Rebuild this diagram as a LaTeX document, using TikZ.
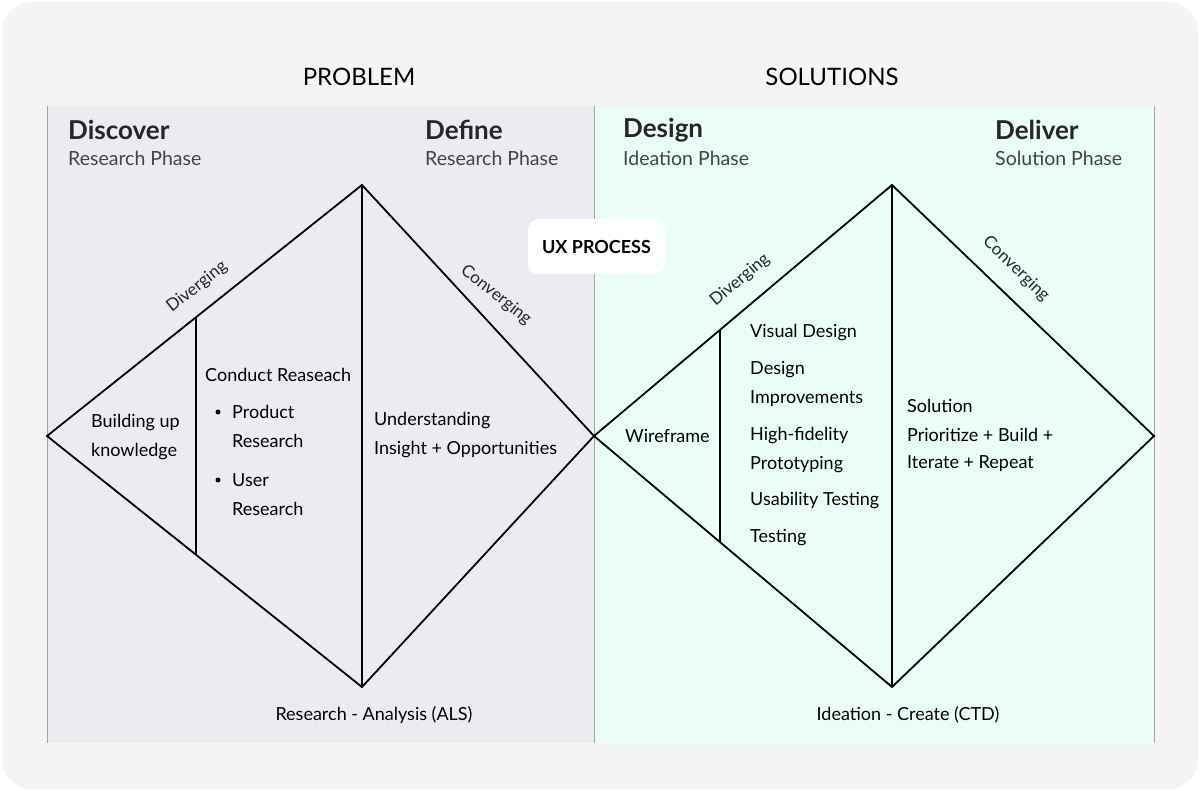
\documentclass[tikz,border=0pt]{standalone}
\usepackage{fontspec}
\setmainfont{Lato}
\usetikzlibrary{positioning}
\definecolor{pagebg}{HTML}{F4F4F4}
\definecolor{probbg}{HTML}{EBEBF0}
\definecolor{solbg}{HTML}{EAFDF8}
\definecolor{phasegray}{HTML}{444444}
\tikzset{
  txt/.style={anchor=west,inner sep=0pt,font=\fontsize{18}{21}\selectfont},
  head/.style={anchor=west,inner sep=0pt,font=\fontsize{26}{30}\selectfont\bfseries,text=black!85},
  phase/.style={anchor=west,inner sep=0pt,font=\fontsize{19.5}{23}\selectfont,text=phasegray},
  title/.style={inner sep=0pt,font=\fontsize{24}{28}\selectfont},
  flow/.style={font=\fontsize{17}{20}\selectfont,text=black!85,inner sep=1pt},
  edge/.style={line width=1.8pt},
  bul/.style={circle,fill=black,inner sep=0pt,minimum size=5pt}
}
\begin{document}
\begin{tikzpicture}[x=1pt,y=-1pt]
	\useasboundingbox (0,0) rectangle (1200,791);
	\fill[white] (0,0) rectangle (1200,791);
	\fill[pagebg,rounded corners=30pt] (2,2) rectangle (1198,789);
	\fill[probbg] (47,106) rectangle (594,743);
	\fill[solbg] (594,106) rectangle (1154,743);
	\foreach \x in {47,594,1154}
		\draw[gray!70,line width=0.8pt] (\x,106) -- (\x,743);
	
	% titles
	\node[title] (problem) at (359,77) {PROBLEM};
	\node[title] (solutions) at (832,77) {SOLUTIONS};
	\node[head] (discover) at (68,130) {Discover};
	\node[phase] (discoverph) at (68,158) {Research Phase};
	\node[head] (define) at (425,130) {Define};
	\node[phase] (defineph) at (425,158) {Research Phase};
	\node[head] (design) at (623,130) {Design};
	\node[phase] (designph) at (623,158) {Ideation Phase};
	\node[head] (deliver) at (995,130) {Deliver};
	\node[phase] (deliverph) at (995,158) {Solution Phase};
	
	% left diamond
	\coordinate (lw) at (47,436);
	\coordinate (ln) at (362,185);
	\coordinate (le) at (594,436);
	\coordinate (ls) at (362,687);
	\coordinate (lit) at (196,317.3);
	\coordinate (lib) at (196,554.7);
	\draw[edge,line join=miter] (lw) -- (ln) -- (le) -- (ls) -- cycle;
	\draw[edge] (ln) -- (ls);
	\draw[edge] (lit) -- (lib);
	
	% right diamond
	\coordinate (rw) at (594,436);
	\coordinate (rn) at (892,185);
	\coordinate (re) at (1154,436);
	\coordinate (rs) at (892,687);
	\coordinate (rit) at (720,330);
	\coordinate (rib) at (720,542);
	\draw[edge,line join=miter] (rw) -- (rn) -- (re) -- (rs) -- cycle;
	\draw[edge] (rn) -- (rs);
	\draw[edge] (rit) -- (rib);
	
	% edge labels
	\node[flow,rotate=38.5] (ldiv) at (197,287) {Diverging};
	\node[flow,rotate=-38.5] (lconv) at (496,295) {Converging};
	\node[flow,rotate=40] (rdiv) at (740,280) {Diverging};
	\node[flow,rotate=-43.8] (rconv) at (1016,269) {Converging};
	
	\node[fill=white,rounded corners=10pt,minimum width=137pt,minimum height=55pt,
		font=\fontsize{18}{20}\selectfont\bfseries] (ux) at (596.5,246.5) {UX PROCESS};
	
	% left content
	\node[txt] (build) at (91,423) {Building up};
	\node[txt] (know) at (91,452) {knowledge};
	\node[txt] (conduct) at (205,375) {Conduct Reaseach};
	\node[txt] (prod) at (232,412) {Product};
	\node[txt] (prodr) at (232,441) {Research};
	\node[txt] (user) at (232,480) {User};
	\node[txt] (userr) at (232,509) {Research};
	\node[bul] (b1) at (218,412) {};
	\node[bul] (b2) at (218,480) {};
	\node[txt] (under) at (374,421) {Understanding};
	\node[txt] (insight) at (374,450) {Insight + Opportunities};
	
	% right content
	\node[txt] (wire) at (625,436) {Wireframe};
	\node[txt] (visual) at (750,333) {Visual Design};
	\node[txt] (desg) at (750,370) {Design};
	\node[txt] (impr) at (750,399) {Improvements};
	\node[txt] (hifi) at (750,436) {High-fidelity};
	\node[txt] (proto) at (750,465) {Prototyping};
	\node[txt] (usab) at (750,501) {Usability Testing};
	\node[txt] (test) at (750,538) {Testing};
	\node[txt] (sol) at (907,406) {Solution};
	\node[txt] (prio) at (907,435) {Prioritize + Build +};
	\node[txt] (iter) at (907,464) {Iterate + Repeat};
	
	% bottom
	\node[txt,anchor=center] (als) at (374,715) {Research - Analysis (ALS)};
	\node[txt,anchor=center] (ctd) at (908,715) {Ideation - Create (CTD)};
\end{tikzpicture}
\end{document}
